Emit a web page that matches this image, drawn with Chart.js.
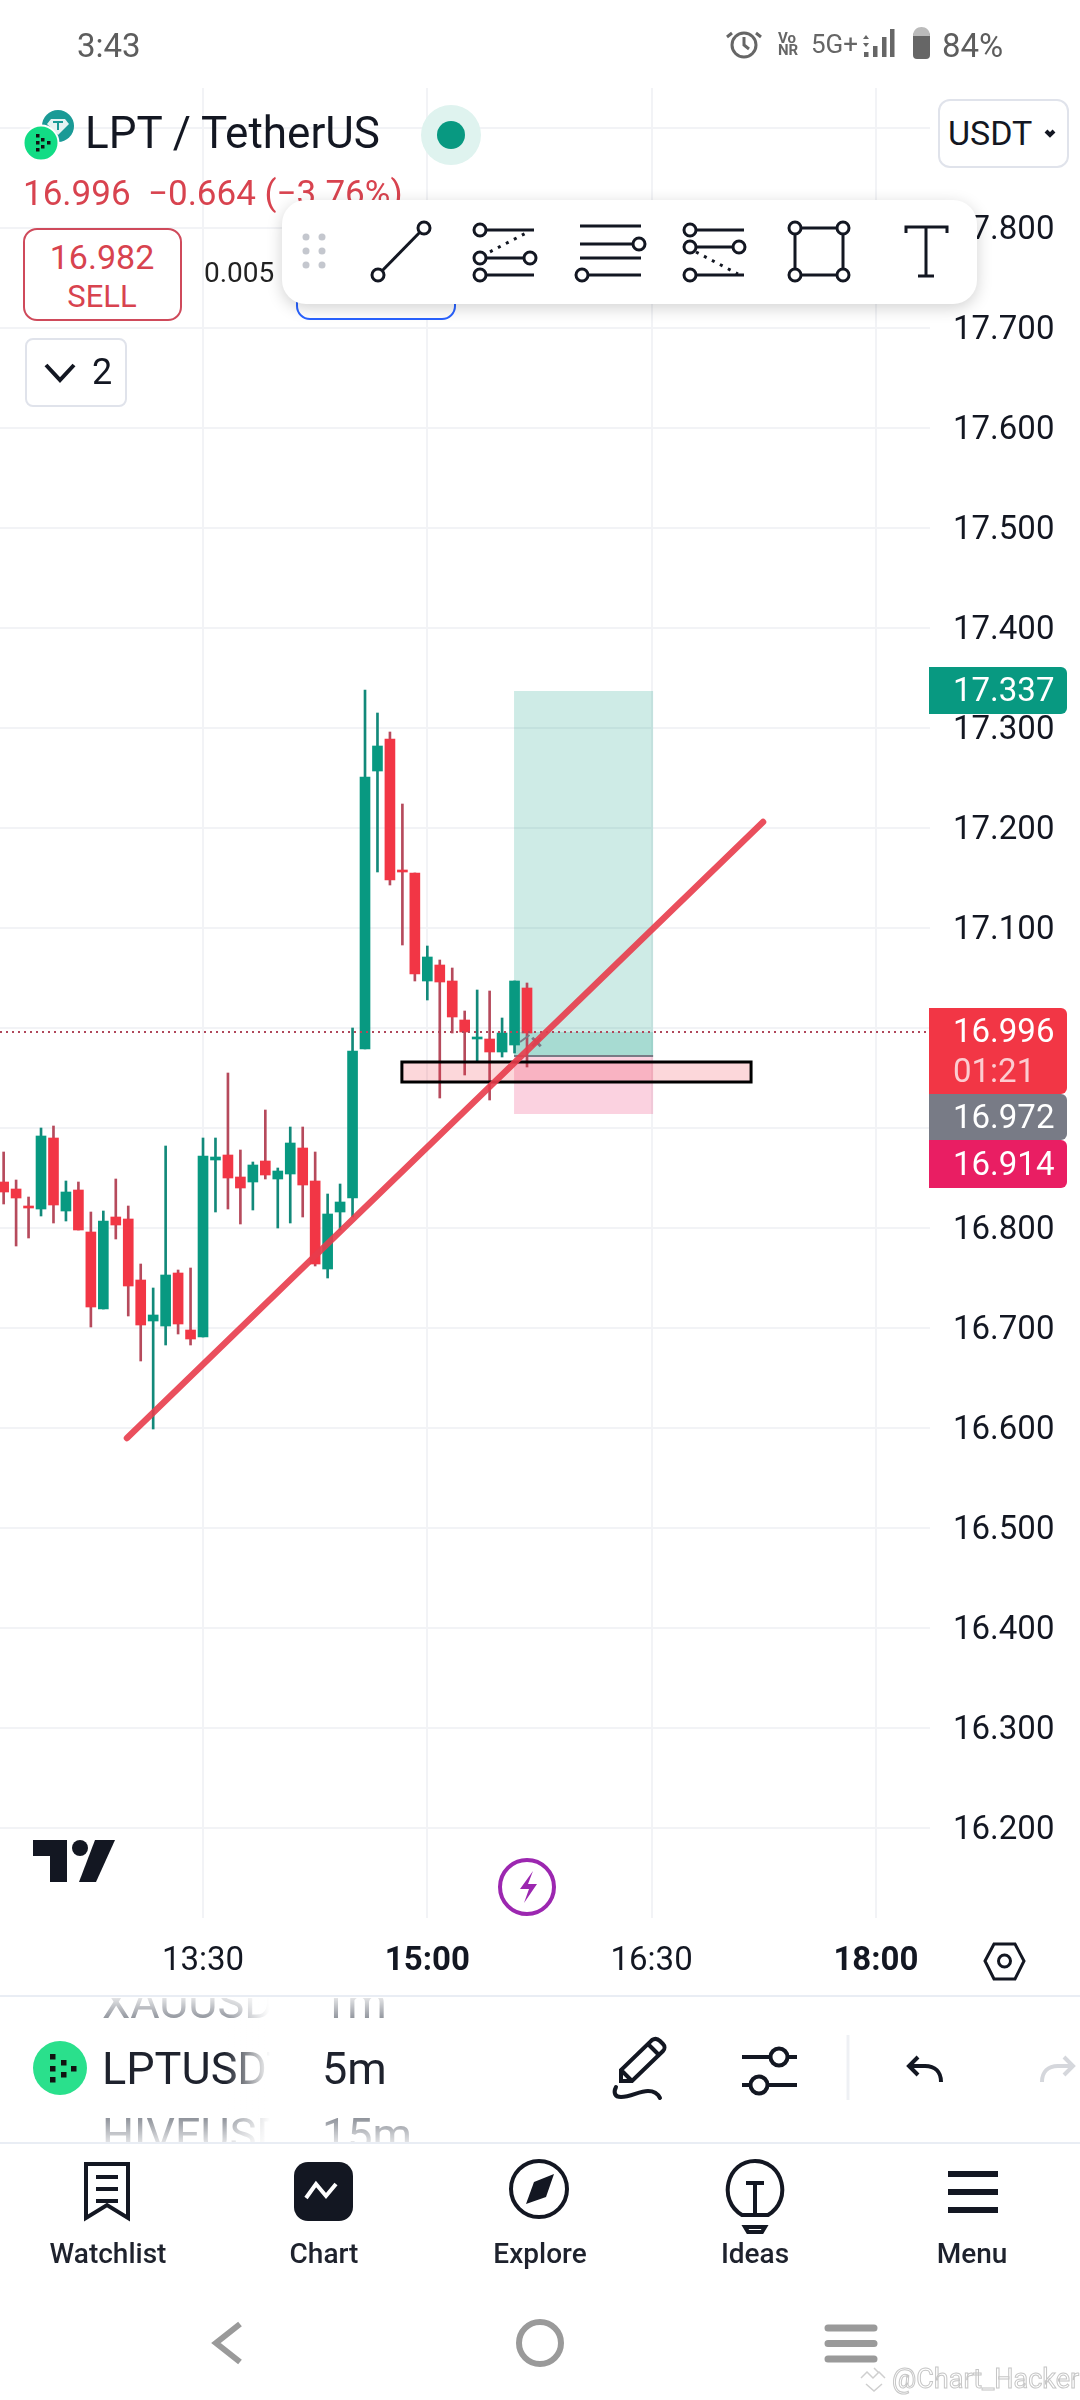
<!DOCTYPE html>
<html>
<head>
<meta charset="utf-8">
<title>LPT / TetherUS</title>
<script src="https://cdn.jsdelivr.net/npm/chart.js@4"></script>
<style>
  html, body { margin: 0; padding: 0; background: #fff; }
  body { width: 1080px; height: 2400px; position: relative; overflow: hidden; font-family: Roboto, sans-serif; color: #131722; }
  canvas { position: absolute; left: 0; top: 0; }
  #icons { position: absolute; left: 0; top: 0; }
  .t { position: absolute; white-space: nowrap; line-height: 1; transform: translateY(-50%); }
  .c { transform: translate(-50%, -50%); }
  .box { position: absolute; box-sizing: border-box; background: #fff; }
  .nav { font-size: 28px; font-weight: 500; color: #1e222d; }
  .clip { position: absolute; overflow: hidden; }
  .clip span { position: absolute; left: 0; line-height: 1; font-size: 45px; color: #8f939b; white-space: nowrap; }
</style>
</head>
<body>
<canvas id="chart" width="1080" height="2400"></canvas>

<div class="t" style="left:77px;top:45px;font-size:33px;color:#5d5d5d">3:43</div>
<div class="t" style="left:778px;top:38px;font-size:15px;font-weight:700;color:#666">Vo</div>
<div class="t" style="left:778px;top:50px;font-size:15px;font-weight:700;color:#666">NR</div>
<div class="t" style="left:811px;top:44px;font-size:26px;color:#666">5G+</div>
<div class="t" style="left:942px;top:45px;font-size:33px;color:#5d5d5d">84%</div>

<div class="t" style="left:85px;top:133px;font-size:44px;color:#131722">LPT / TetherUS</div>
<div class="t" style="left:23px;top:193px;font-size:35px;color:#d8434f">16.996&nbsp; −0.664 (−3.76%)</div>

<div class="box" style="left:938px;top:99px;width:131px;height:69px;border:2px solid #e0e3eb;border-radius:12px"></div>
<div class="t" style="left:948px;top:133px;font-size:34px">USDT</div>

<div class="box" style="left:23px;top:228px;width:159px;height:93px;border:2px solid #cf4a5b;border-radius:14px"></div>
<div class="t c" style="left:102px;top:257px;font-size:34px;color:#d8434f">16.982</div>
<div class="t c" style="left:102px;top:296px;font-size:31px;color:#d8434f">SELL</div>
<div class="t" style="left:204px;top:273px;font-size:28px;color:#222">0.005</div>
<div class="box" style="left:296px;top:228px;width:160px;height:92px;border:2px solid #2962ff;border-radius:14px"></div>
<div class="t c" style="left:376px;top:295px;font-size:28px;color:#2962ff">BUY</div>

<div class="box" style="left:25px;top:338px;width:102px;height:69px;border:2px solid #e0e3eb;border-radius:8px"></div>
<div class="t" style="left:92px;top:372px;font-size:36px">2</div>

<div class="box" style="left:282px;top:200px;width:695px;height:104px;border-radius:24px;box-shadow:0 4px 16px rgba(0,0,0,.18)"></div>

<!-- symbol / timeframe wheel -->
<div class="clip" style="left:102px;top:1998px;width:180px;height:21px;-webkit-mask-image:linear-gradient(0deg,#000,rgba(0,0,0,.25))"><span style="top:-18px">XAUUSDT</span></div>
<div class="clip" style="left:322px;top:1998px;width:90px;height:21px;-webkit-mask-image:linear-gradient(0deg,#000,rgba(0,0,0,.25))"><span style="top:-18px">1m</span></div>
<div class="t" style="left:102px;top:2068px;font-size:45px;color:#1e222d">LPTUSDT</div>
<div class="t" style="left:322px;top:2068px;font-size:45px;color:#1e222d">5m</div>
<div class="clip" style="left:102px;top:2118px;width:180px;height:25px;-webkit-mask-image:linear-gradient(180deg,#000,rgba(0,0,0,.25))"><span style="top:-6px">HIVEUSDT</span></div>
<div class="clip" style="left:322px;top:2118px;width:90px;height:25px;-webkit-mask-image:linear-gradient(180deg,#000,rgba(0,0,0,.25))"><span style="top:-6px">15m</span></div>
<div style="position:absolute;left:225px;top:1998px;width:50px;height:144px;background:linear-gradient(90deg,rgba(255,255,255,0),#fff 90%)"></div>
<div style="position:absolute;left:275px;top:1998px;width:30px;height:144px;background:#fff"></div>

<div class="t c nav" style="left:108px;top:2254px">Watchlist</div>
<div class="t c nav" style="left:324px;top:2254px">Chart</div>
<div class="t c nav" style="left:540px;top:2254px">Explore</div>
<div class="t c nav" style="left:755px;top:2254px">Ideas</div>
<div class="t c nav" style="left:972px;top:2254px">Menu</div>
<div class="t" style="left:892px;top:2379px;font-size:27px;color:transparent;-webkit-text-stroke:1px #c6c6c6">@Chart_Hacker</div>

<svg id="icons" width="1080" height="2400" fill="none" stroke="#131722" stroke-width="3">
  <!-- status bar -->
  <circle cx="744" cy="45" r="12" stroke="#666"/>
  <path d="M744 37v8l5 4M732 33l-5 4M756 33l5 4" stroke="#666"/>
  <g fill="#666" stroke="none">
    <rect x="864" y="52" width="4.5" height="5"/><rect x="873" y="46" width="4.5" height="11"/><rect x="882" y="37" width="4.5" height="20"/><rect x="890" y="29" width="4.5" height="28"/>
    <path d="M866 35l-3 4h6zM866 47l-3-4h6z"/>
    <rect x="913" y="32" width="17" height="27" rx="4"/>
    <path d="M913 36c0-6 4-9 8.500-9s8.500 3 8.500 9z" fill="#bbb"/>
  </g>

  <!-- coin icons -->
  <circle cx="58" cy="126" r="16" fill="#1a9a96" stroke="none"/>
  <path d="M51 119h14l4 5-11 11-11-11z" fill="#e6f3f2" stroke="none"/>
  <path d="M53 122h10M58 122v8" stroke="#1a9a96" stroke-width="2"/>
  <circle cx="41" cy="143" r="17.500" fill="#12dc85" stroke="#fff" stroke-width="2"/>
  <g fill="#111" stroke="none">
    <rect x="36" y="134" width="3.500" height="3.500"/><rect x="36" y="141" width="3.500" height="3.500"/><rect x="36" y="148" width="3.500" height="3.500"/>
    <rect x="41" y="138" width="3.500" height="3.500"/><rect x="41" y="145" width="3.500" height="3.500"/><rect x="47" y="141" width="3.500" height="3.500"/>
  </g>
  <circle cx="451" cy="135" r="30" fill="#dff3ef" stroke="none"/>
  <circle cx="451" cy="135" r="14" fill="#089981" stroke="none"/>
  <path d="M1046 131l4 4 4-4" stroke-width="4"/>
  <path d="M46 365l14 15 14-15" stroke-width="4"/>

  <!-- drawing toolbar -->
  <g fill="#c4c7ce" stroke="none">
    <circle cx="306" cy="237" r="3.500"/><circle cx="322" cy="237" r="3.500"/>
    <circle cx="306" cy="251" r="3.500"/><circle cx="322" cy="251" r="3.500"/>
    <circle cx="306" cy="265" r="3.500"/><circle cx="322" cy="265" r="3.500"/>
  </g>
  <g fill="#fff">
    <path d="M378 275L424 228"/><circle cx="378" cy="275" r="6"/><circle cx="424" cy="228" r="6"/>
    <path d="M480 230h54M480 258h44M480 275h54"/><path d="M482 256l46-24" stroke-dasharray="3 6"/>
    <circle cx="480" cy="230" r="6"/><circle cx="480" cy="258" r="6"/><circle cx="530" cy="258" r="6"/><circle cx="480" cy="275" r="6"/>
    <path d="M580 226h61M580 244h58M580 258h61M586 275h55"/>
    <circle cx="639" cy="244" r="6"/><circle cx="582" cy="275" r="6"/>
    <path d="M690 230h54M690 247h50M690 275h54"/><path d="M696 252l42 22" stroke-dasharray="3 6"/>
    <circle cx="690" cy="230" r="6"/><circle cx="690" cy="247" r="6"/><circle cx="739" cy="247" r="6"/><circle cx="690" cy="275" r="6"/>
    <rect x="795" y="228" width="48" height="47"/>
    <circle cx="795" cy="228" r="6"/><circle cx="843" cy="228" r="6"/><circle cx="795" cy="275" r="6"/><circle cx="843" cy="275" r="6"/>
    <path d="M906 233v-6h41v6M926 227v49M918 276h16"/>
  </g>

  <!-- TV logo and lightning -->
  <g fill="#131722" stroke="none">
    <path d="M33 1840h34v42h-17v-26h-17z"/><circle cx="80" cy="1848" r="8"/><path d="M95 1840h20l-19 42h-17z"/>
  </g>
  <circle cx="527" cy="1887" r="27" stroke="#9c27b0" stroke-width="4"/>
  <path d="M533 1871l-13 18h9l-5 14 13-19h-9z" fill="#9c27b0" stroke="none"/>
  <path d="M985 1961l9-17h21l9 17-9 18h-21z"/>
  <circle cx="1004.500" cy="1961" r="6"/>

  <!-- timeframe bar -->
  <path d="M0 1996h1080M0 2143h1080" stroke="#e9edf4" stroke-width="2"/>
  <circle cx="60" cy="2068" r="27" fill="#2ae08c" stroke="none"/>
  <g fill="#111" stroke="none">
    <rect x="50" y="2054" width="5.500" height="5.500"/><rect x="50" y="2066" width="5.500" height="5.500"/><rect x="50" y="2077" width="5.500" height="5.500"/>
    <rect x="61" y="2060" width="5.500" height="5.500"/><rect x="61" y="2072" width="5.500" height="5.500"/><rect x="71" y="2066" width="5.500" height="5.500"/>
  </g>
  <g stroke-width="4">
    <path d="M621 2081v-11l31-30c3-2 6-1 8 1l3 3c2 2 2 5 0 7l-31 30zM621 2070l11 11M648 2044l11 11"/>
    <path d="M616 2087c-3 6-1 10 5 10 10 0 18-6 27-6 7 0 10 3 12 7" stroke-linecap="round"/>
    <path d="M742 2057h55M742 2085h55"/>
    <circle cx="779" cy="2057" r="8.500" fill="#fff"/><circle cx="759" cy="2085" r="8.500" fill="#fff"/>
    <path d="M918 2057l-9 9 9 9M909 2066h16c10 0 16 6 16 16"/>
    <path d="M1064 2057l9 9-9 9M1073 2066h-15c-10 0-16 6-16 16" stroke="#d5d7dc"/>
  </g>
  <path d="M848 2035v65" stroke="#eef0f4"/>

  <!-- bottom nav -->
  <g transform="translate(0 -3)">
    <path d="M86 2167h42v54l-21-13-21 13z" stroke-width="4"/>
    <path d="M96 2180h22M96 2192h22M96 2204h22" stroke-width="4"/>
    <rect x="294" y="2165" width="59" height="59" rx="14" fill="#131722" stroke="none"/>
    <path d="M306 2201l10-14 10 12 10-12" stroke="#fff" stroke-width="4"/>
    <circle cx="539" cy="2192" r="28" stroke-width="4"/>
    <path d="M554 2177l-8 23-20 7 8-22z" fill="#131722" stroke="none"/>
    <path d="M742 2218c-25-15-15-54 13-54s38 39 13 54zM745 2230h20l-3 5h-14zM746 2186h18M755 2186v30" stroke-width="4"/>
    <path d="M948 2177h50M948 2195h50M948 2213h50" stroke-width="6"/>
  </g>

  <!-- android nav -->
  <path d="M240 2324l-24 19 24 19" stroke="#9a9a9a" stroke-width="6"/>
  <circle cx="540" cy="2343" r="21" stroke="#9a9a9a" stroke-width="6"/>
  <path d="M828 2328h46M828 2343.500h46M828 2359h46" stroke="#9a9a9a" stroke-width="7" stroke-linecap="round"/>
  <path d="M861 2378l6-6 6 6 6-6 6 6M866 2384l8 7 8-7M874 2368l4 4" stroke="#cfcfcf" stroke-width="1.500"/>
</svg>

<script>
// candles, 5m bars, first one at 12:10 (minutes since midnight)
const firstCandle = 730;
const opens = [16.846,16.839,16.822,16.819,16.890,16.817,16.838,16.796,16.719,16.811,16.809,16.748,16.707,16.702,16.755,16.698,16.691,16.868,16.873,16.851,16.846,16.867,16.849,16.854,16.880,16.847,16.759,16.816,16.830,16.979,17.257,17.289,17.158,17.155,17.047,17.063,17.047,17.008,16.989,16.989,16.976,16.983,17.040];
const highs = [16.876,16.848,16.831,16.900,16.902,16.847,16.846,16.816,16.817,16.849,16.822,16.764,16.740,16.882,16.758,16.760,16.890,16.890,16.955,16.878,16.866,16.918,16.860,16.901,16.901,16.876,16.834,16.844,17.000,17.338,17.315,17.296,17.224,17.155,17.082,17.068,17.060,17.017,17.038,17.037,17.010,17.047,17.045];
const lows = [16.824,16.782,16.790,16.812,16.805,16.807,16.798,16.701,16.719,16.789,16.712,16.667,16.599,16.683,16.694,16.683,16.691,16.816,16.819,16.804,16.818,16.849,16.800,16.805,16.811,16.762,16.750,16.798,16.811,16.979,17.156,17.143,17.083,17.047,17.028,16.930,16.995,16.953,16.966,16.928,16.971,16.975,16.961];
const closes = [16.836,16.830,16.820,16.892,16.823,16.836,16.798,16.721,16.807,16.803,16.742,16.703,16.713,16.753,16.704,16.689,16.872,16.871,16.850,16.840,16.863,16.853,16.857,16.885,16.843,16.764,16.814,16.826,16.977,17.251,17.282,17.148,17.156,17.054,17.071,17.046,17.011,16.996,16.991,16.976,16.995,17.047,16.995];

const priceTicks = [16.2,16.3,16.4,16.5,16.6,16.7,16.8,16.9,17.0,17.1,17.2,17.3,17.4,17.5,17.6,17.7,17.8,17.9];
const timeTicks = [810, 900, 990, 1080];
const boldTimes = [900, 1080];

// drawings on the chart
const trendTimes = [779.5, 1034.7];
const trendPrices = [16.590, 17.206];
const lastPrice = 16.996;
const countdown = '01:21';
const entryPrice = 16.972;
const targetPrice = 17.337;
const stopPrice = 16.914;
const positionTimes = [934.8, 990.6];
const zoneTimes = [889.8, 1029.9];
const zonePrices = [16.966, 16.946];
const pathTimes = [937.2, 941];
const pathPrices = [16.986, 16.993];
const closeMarkTime = 943.8;
const closeMarkPrice = 16.986;

const xMin = 728.54, xMax = 1101.7, yMin = 16.11, yMax = 17.94;
const green = '#089981', red = '#f23645', gray = '#787b86', gridColor = '#f2f3f6';

const candleTimes = opens.map((_, i) => firstCandle + i * 5);
const isUp = i => closes[i] >= opens[i];

function rect(chart, x0, x1, p0, p1) {
  const { x, y } = chart.scales;
  const left = x.getPixelForValue(x0), top = y.getPixelForValue(p0);
  return [left, top, x.getPixelForValue(x1) - left, y.getPixelForValue(p1) - top];
}

// long position box sits behind the candles
const positionBox = {
  id: 'positionBox',
  beforeDatasetsDraw(chart) {
    const c = chart.ctx;
    c.save();
    c.fillStyle = 'rgba(8,153,129,0.2)';
    c.fillRect(...rect(chart, positionTimes[0], positionTimes[1], targetPrice, entryPrice));
    c.fillRect(...rect(chart, positionTimes[0], positionTimes[1], lastPrice, entryPrice));
    c.fillStyle = 'rgba(233,30,99,0.2)';
    c.fillRect(...rect(chart, positionTimes[0], positionTimes[1], entryPrice, stopPrice));
    c.fillStyle = gray;
    const r = rect(chart, positionTimes[0], positionTimes[1], entryPrice, entryPrice);
    c.fillRect(r[0], r[1] - 1, r[2], 2);
    c.restore();
  },
  // zone goes over the candle bodies, under the trend line
  afterDatasetDraw(chart, args) {
    if (args.index !== 1) return;
    const c = chart.ctx;
    const r = rect(chart, zoneTimes[0], zoneTimes[1], zonePrices[0], zonePrices[1]);
    c.save();
    c.fillStyle = 'rgba(242,54,69,0.2)';
    c.fillRect(...r);
    c.strokeStyle = '#000';
    c.lineWidth = 3;
    c.strokeRect(...r);
    c.restore();
  }
};

// price labels stacked on the right axis
const priceTags = {
  id: 'priceTags',
  afterDraw(chart) {
    const c = chart.ctx, y = chart.scales.y;
    const left = 929, w = 138;
    function tag(top, h, color) {
      c.fillStyle = color;
      c.beginPath();
      c.roundRect(left, top, w, h, [0, 6, 6, 0]);
      c.fill();
    }
    function label(text, cy, color) {
      c.fillStyle = color;
      c.fillText(text, 953, cy + 2);
    }
    c.save();
    c.font = '33px Roboto';
    c.textBaseline = 'middle';
    const targetY = y.getPixelForValue(targetPrice);
    tag(targetY - 24, 47, green);
    label(targetPrice.toFixed(3), targetY, '#fff');
    const lastY = y.getPixelForValue(lastPrice);
    const top = lastY - 24;
    tag(top, 86, red);
    label(lastPrice.toFixed(3), lastY, '#fff');
    label(countdown, lastY + 40, 'rgba(255,255,255,0.75)');
    tag(top + 86, 46, gray);
    label(entryPrice.toFixed(3), top + 110, '#fff');
    tag(top + 132, 48, '#e91e63');
    label(stopPrice.toFixed(3), top + 157, '#fff');
    c.restore();
  }
};

new Chart(document.getElementById('chart'), {
  type: 'bar',
  data: {
    datasets: [
      {
        label: 'wicks',
        data: candleTimes.map((t, i) => ({ x: t, y: [lows[i], highs[i]] })),
        backgroundColor: candleTimes.map((_, i) => isUp(i) ? '#12897a' : '#b64a5c'),
        barThickness: 2,
        grouped: false,
        order: 5
      },
      {
        label: 'bodies',
        data: candleTimes.map((t, i) => ({ x: t, y: [opens[i], closes[i]] })),
        backgroundColor: candleTimes.map((_, i) => isUp(i) ? green : red),
        barThickness: 10,
        grouped: false,
        order: 4
      },
      {
        type: 'line',
        label: 'last price',
        data: [{ x: xMin, y: lastPrice }, { x: xMax, y: lastPrice }],
        borderColor: '#b0475a',
        borderWidth: 2,
        borderDash: [2, 4],
        pointRadius: 0,
        order: 3
      },
      {
        type: 'line',
        label: 'position path',
        data: pathTimes.map((t, i) => ({ x: t, y: pathPrices[i] })),
        borderColor: gray,
        borderWidth: 2,
        pointRadius: 0,
        order: 2
      },
      {
        type: 'line',
        label: 'position close',
        data: [{ x: closeMarkTime, y: closeMarkPrice }],
        showLine: false,
        pointStyle: 'crossRot',
        pointRadius: 6,
        pointBorderColor: gray,
        pointBorderWidth: 3,
        order: 2
      },
      {
        type: 'line',
        label: 'trend line',
        data: trendTimes.map((t, i) => ({ x: t, y: trendPrices[i] })),
        borderColor: 'rgba(232,60,75,0.9)',
        borderWidth: 6.5,
        borderCapStyle: 'round',
        pointRadius: 0,
        order: 1
      }
    ]
  },
  options: {
    responsive: false,
    animation: false,
    devicePixelRatio: 1,
    layout: { autoPadding: false, padding: { top: 88, bottom: 402 } },
    plugins: { legend: { display: false }, tooltip: { enabled: false } },
    scales: {
      x: {
        type: 'linear',
        min: xMin,
        max: xMax,
        bounds: 'data',
        offset: false,
        afterFit: axis => { axis.height = 80; axis.paddingLeft = 0; axis.paddingRight = 0; },
        afterBuildTicks: axis => { axis.ticks = timeTicks.map(v => ({ value: v })); },
        grid: { color: gridColor, lineWidth: 2, drawTicks: false, offset: false },
        border: { display: false },
        ticks: {
          autoSkip: false,
          maxRotation: 0,
          padding: 24,
          color: '#131722',
          font: ctx => ({ family: 'Roboto', size: 33, weight: boldTimes.includes(ctx.tick && ctx.tick.value) ? '700' : '400' }),
          callback: v => String(Math.floor(v / 60)).padStart(2, '0') + ':' + String(v % 60).padStart(2, '0')
        }
      },
      y: {
        position: 'right',
        min: yMin,
        max: yMax,
        bounds: 'data',
        beginAtZero: false,
        afterFit: axis => { axis.width = 150; axis.paddingTop = 0; axis.paddingBottom = 0; },
        afterBuildTicks: axis => { axis.ticks = priceTicks.map(v => ({ value: v })); },
        grid: { color: gridColor, lineWidth: 2, drawTicks: false },
        border: { display: false },
        ticks: {
          autoSkip: false,
          padding: 23,
          labelOffset: 3,
          color: '#131722',
          font: { family: 'Roboto', size: 33 },
          callback: v => v.toFixed(3)
        }
      }
    }
  },
  plugins: [positionBox, priceTags]
});
</script>
</body>
</html>
